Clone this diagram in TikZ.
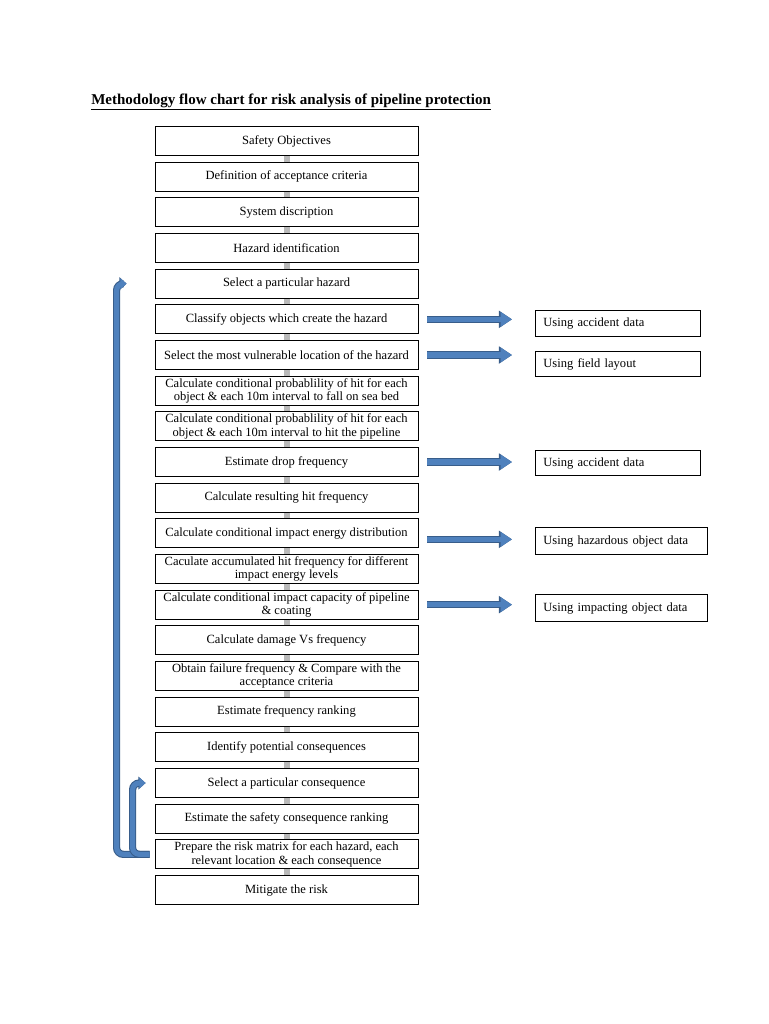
\documentclass[tikz,border=0pt]{standalone}
\usepackage{fontspec}
\setmainfont{Liberation Serif}
\usetikzlibrary{arrows.meta,positioning}

\definecolor{linkColor}{RGB}{185,185,185}
\definecolor{arrowFill}{RGB}{79,129,189}
\definecolor{arrowLine}{RGB}{56,93,138}
\tikzset{
  stepbox/.style={draw, fill=white, line width=0.6pt, minimum width=197.25pt, minimum height=21.75pt, inner sep=1pt, align=center, font=\fontsize{9.4}{9.9}\selectfont},
  usebox/.style={draw, anchor=west, line width=0.6pt, minimum height=19pt, inner xsep=6pt, text width=#1, align=left, font=\fontsize{9.4}{9.9}\selectfont},
  link/.style={draw=linkColor, line width=4.5pt},
  blockarrow/.style={preaction={draw=arrowLine, line width=5.6pt, -{Triangle[length=9.8pt,width=12.4pt]}}, draw=arrowFill, line width=4pt, -{Triangle[length=8.6pt,width=10.6pt]}, shorten <=6.75pt, shorten >=17.25pt},
  looparrow/.style={preaction={draw=arrowLine, line width=5.4pt, rounded corners=5pt, -{Triangle[length=5.4pt,width=9.4pt]}}, draw=arrowFill, line width=3.8pt, rounded corners=5pt, -{Triangle[length=4.6pt,width=7.8pt]}}
}

\begin{document}
\begin{tikzpicture}[x=0.75pt,y=-0.75pt]
\useasboundingbox (0,0) rectangle (768,1024);
\node[anchor=west, inner sep=0pt, font=\bfseries\fontsize{11.25}{13}\selectfont] (title) at (91,102) {\underline{Methodology flow chart for risk analysis of pipeline protection}};
\foreach \i/\t in {1/{Safety Objectives},
  2/{Definition of acceptance criteria},
  3/{System discription},
  4/{Hazard identification},
  5/{Select a particular hazard},
  6/{Classify objects which create the hazard},
  7/{Select the most vulnerable location of the hazard},
  8/{Calculate conditional probablility of hit for each\\object \& each 10m interval to fall on sea bed},
  9/{Calculate conditional probablility of hit for each\\object \& each 10m interval to hit the pipeline},
  10/{Estimate drop frequency},
  11/{Calculate resulting hit frequency},
  12/{Calculate conditional impact energy distribution},
  13/{Caculate accumulated hit frequency for different\\impact energy levels},
  14/{Calculate conditional impact capacity of pipeline\\\& coating},
  15/{Calculate damage Vs frequency},
  16/{Obtain failure frequency \& Compare with the\\acceptance criteria},
  17/{Estimate frequency ranking},
  18/{Identify potential consequences},
  19/{Select a particular consequence},
  20/{Estimate the safety consequence ranking},
  21/{Prepare the risk matrix for each hazard, each\\relevant location \& each consequence},
  22/{Mitigate the risk}}
  \node[stepbox] (c\i) at (286.5,{141+35.667*(\i-1)}) {\t};
\foreach \i in {1,...,21}{
  \pgfmathtruncatemacro\j{\i+1}
  \draw[link] (c\i) -- (c\j);
}
\node[usebox=111.75pt] (u1) at (535,323.5) {Using accident data};
\node[usebox=111.75pt] (u2) at (535,364) {Using field layout};
\node[usebox=111.75pt] (u3) at (535,463) {Using accident data};
\node[usebox=117pt, minimum height=20.5pt] (u4) at (535,541) {Using hazardous object data};
\node[usebox=117pt, minimum height=20.5pt] (u5) at (535,608) {Using impacting object data};
\draw[blockarrow] (c6.east) -- (c6.east -| u1.west);
\draw[blockarrow] (c7.east) -- (c7.east -| u2.west);
\draw[blockarrow] (c10.east) -- (c10.east -| u3.west);
\draw[blockarrow] ([yshift=-4.5pt]c12.east) -- ([yshift=-4.5pt]c12.east -| u4.west);
\draw[blockarrow] (c14.east) -- (c14.east -| u5.west);
\draw[looparrow] ([xshift=-3.75pt]c21.west) -- ++(-24.75pt,0) |- ([xshift=-21pt]c5.west);
\draw[looparrow] ([xshift=-3.75pt]c21.west) -- ++(-12.75pt,0) |- ([xshift=-6.75pt]c19.west);
\end{tikzpicture}
\end{document}
